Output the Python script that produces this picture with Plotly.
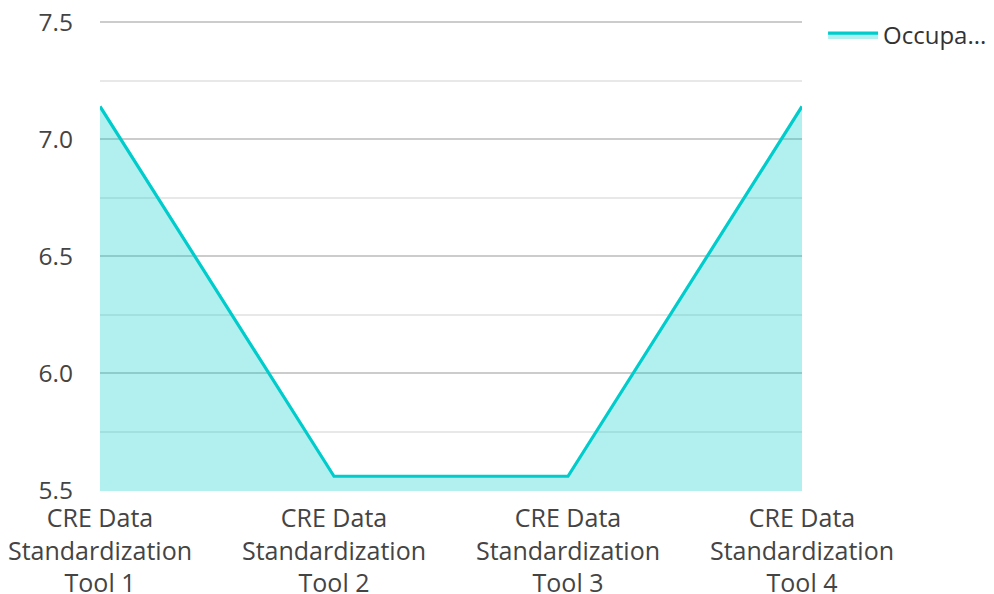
import plotly.graph_objects as go

categories = ["CRE Data<br>Standardization<br>Tool 1", "CRE Data<br>Standardization<br>Tool 2",
              "CRE Data<br>Standardization<br>Tool 3", "CRE Data<br>Standardization<br>Tool 4"]
values = [7.14, 5.56, 5.56, 7.14]
series_name = "Occupa..."
y_ticks = [5.5, 6.0, 6.5, 7.0, 7.5]

fig = go.Figure()
fig.add_trace(go.Scatter(
    x=categories, y=values, name=series_name, mode="lines",
    line=dict(color="#00cccc", width=3.2),
    fill="tozeroy", fillcolor="rgba(0,204,204,0.3)",
    showlegend=True,
))

fig.update_layout(
    width=994, height=594,
    margin=dict(l=92, r=200, t=12.8, b=111.3, autoexpand=False),
    paper_bgcolor="white", plot_bgcolor="white",
    font=dict(family="Open Sans", size=24.5, color="#444444"),
    showlegend=True,
    legend=dict(x=1.03, y=1.017, xanchor="left", yanchor="top", itemwidth=50,
                font=dict(size=24, color="#333333"), bgcolor="rgba(0,0,0,0)"),
    xaxis=dict(type="category", range=[0, 3], showgrid=False, zeroline=False,
               showline=False, ticks="", ticklabelstandoff=10, automargin=False,
               ticklabeloverflow="allow",
               tickfont=dict(size=25, color="#444444")),
    yaxis=dict(range=[5.497, 7.505], tickvals=y_ticks, ticktext=[f"{v:.1f}" for v in y_ticks],
               showgrid=True, gridcolor="#cccccc", gridwidth=1.5, zeroline=False,
               showline=False, ticks="", ticklabelstandoff=26, automargin=False,
               ticklabeloverflow="allow",
               tickfont=dict(size=24.5, color="#444444"),
               minor=dict(dtick=0.25, tick0=5.5, showgrid=True, gridcolor="#e8e8e8", gridwidth=1.5)),
)

fig.write_html("out.html")
